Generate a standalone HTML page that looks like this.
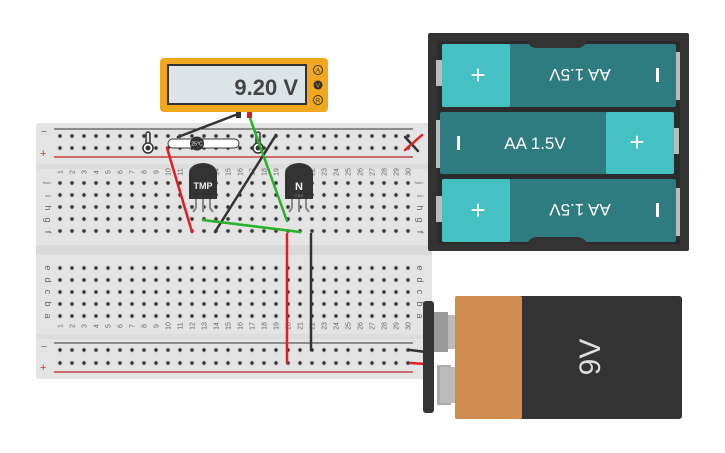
<!DOCTYPE html>
<html><head><meta charset="utf-8"><style>
html,body{margin:0;padding:0;background:#fff;width:725px;height:453px;overflow:hidden}
svg{display:block;font-family:"Liberation Sans",sans-serif}
</style></head><body>
<svg width="725" height="453" viewBox="0 0 725 453" xmlns="http://www.w3.org/2000/svg">
<defs>
<pattern id="h" x="54" y="0" width="12" height="12" patternUnits="userSpaceOnUse">
<circle cx="6" cy="6" r="2.6" fill="#cfcfcf"/><circle cx="6" cy="6" r="1.7" fill="#333"/>
</pattern>
</defs>
<!-- breadboard -->
<rect x="36" y="123" width="396" height="256" rx="3" fill="#e4e4e4"/>
<rect x="36" y="164" width="396" height="5" fill="#dcdcdc"/>
<rect x="36" y="245" width="396" height="10" fill="#dadada"/>
<rect x="36" y="334" width="396" height="5" fill="#dcdcdc"/>
<line x1="54" y1="129" x2="413" y2="129" stroke="#333" stroke-width="1"/>
<line x1="54" y1="157" x2="413" y2="157" stroke="#b22" stroke-width="1.2"/>
<line x1="54" y1="343" x2="413" y2="343" stroke="#333" stroke-width="1"/>
<line x1="54" y1="372" x2="413" y2="372" stroke="#b22" stroke-width="1.2"/>
<g font-size="10" fill="#555"><text x="41" y="135">−</text><text x="41" y="350">−</text></g>
<g font-size="11" fill="#c33"><text x="40" y="157">+</text><text x="40" y="371">+</text></g>
<g>
<rect x="54" y="0" width="360" height="12" fill="url(#h)" transform="translate(0,130)"/>
<rect x="54" y="0" width="360" height="12" fill="url(#h)" transform="translate(0,142)"/>
<rect x="54" y="0" width="360" height="60" fill="url(#h)" transform="translate(0,177)"/>
<rect x="54" y="0" width="360" height="60" fill="url(#h)" transform="translate(0,262)"/>
<rect x="54" y="0" width="360" height="12" fill="url(#h)" transform="translate(0,344)"/>
<rect x="54" y="0" width="360" height="12" fill="url(#h)" transform="translate(0,357)"/>
</g>
<!-- row letters -->
<g font-size="9" fill="#666" text-anchor="middle">
<text transform="translate(48,183) rotate(90)" dy="3">j</text><text transform="translate(48,196) rotate(90)" dy="3">i</text><text transform="translate(48,208) rotate(90)" dy="3">h</text><text transform="translate(48,220) rotate(90)" dy="3">g</text><text transform="translate(48,232) rotate(90)" dy="3">f</text>
<text transform="translate(48,268) rotate(90)" dy="3">e</text><text transform="translate(48,280) rotate(90)" dy="3">d</text><text transform="translate(48,292) rotate(90)" dy="3">c</text><text transform="translate(48,304) rotate(90)" dy="3">b</text><text transform="translate(48,316) rotate(90)" dy="3">a</text>
<text transform="translate(420,183) rotate(90)" dy="3">j</text><text transform="translate(420,196) rotate(90)" dy="3">i</text><text transform="translate(420,208) rotate(90)" dy="3">h</text><text transform="translate(420,220) rotate(90)" dy="3">g</text><text transform="translate(420,232) rotate(90)" dy="3">f</text>
<text transform="translate(420,268) rotate(90)" dy="3">e</text><text transform="translate(420,280) rotate(90)" dy="3">d</text><text transform="translate(420,292) rotate(90)" dy="3">c</text><text transform="translate(420,304) rotate(90)" dy="3">b</text><text transform="translate(420,316) rotate(90)" dy="3">a</text>
</g>
<g font-size="7" fill="#666" text-anchor="middle">
<g>
<text transform="translate(60,172) rotate(-90)" dy="2.5">1</text><text transform="translate(72,172) rotate(-90)" dy="2.5">2</text><text transform="translate(84,172) rotate(-90)" dy="2.5">3</text><text transform="translate(96,172) rotate(-90)" dy="2.5">4</text><text transform="translate(108,172) rotate(-90)" dy="2.5">5</text><text transform="translate(120,172) rotate(-90)" dy="2.5">6</text><text transform="translate(132,172) rotate(-90)" dy="2.5">7</text><text transform="translate(144,172) rotate(-90)" dy="2.5">8</text><text transform="translate(156,172) rotate(-90)" dy="2.5">9</text><text transform="translate(168,172) rotate(-90)" dy="2.5">10</text><text transform="translate(180,172) rotate(-90)" dy="2.5">11</text><text transform="translate(192,172) rotate(-90)" dy="2.5">12</text><text transform="translate(204,172) rotate(-90)" dy="2.5">13</text><text transform="translate(216,172) rotate(-90)" dy="2.5">14</text><text transform="translate(228,172) rotate(-90)" dy="2.5">15</text><text transform="translate(240,172) rotate(-90)" dy="2.5">16</text><text transform="translate(252,172) rotate(-90)" dy="2.5">17</text><text transform="translate(264,172) rotate(-90)" dy="2.5">18</text><text transform="translate(276,172) rotate(-90)" dy="2.5">19</text><text transform="translate(288,172) rotate(-90)" dy="2.5">20</text><text transform="translate(300,172) rotate(-90)" dy="2.5">21</text><text transform="translate(312,172) rotate(-90)" dy="2.5">22</text><text transform="translate(324,172) rotate(-90)" dy="2.5">23</text><text transform="translate(336,172) rotate(-90)" dy="2.5">24</text><text transform="translate(348,172) rotate(-90)" dy="2.5">25</text><text transform="translate(360,172) rotate(-90)" dy="2.5">26</text><text transform="translate(372,172) rotate(-90)" dy="2.5">27</text><text transform="translate(384,172) rotate(-90)" dy="2.5">28</text><text transform="translate(396,172) rotate(-90)" dy="2.5">29</text><text transform="translate(408,172) rotate(-90)" dy="2.5">30</text>
</g>
<g>
<text transform="translate(60,326) rotate(-90)" dy="2.5">1</text><text transform="translate(72,326) rotate(-90)" dy="2.5">2</text><text transform="translate(84,326) rotate(-90)" dy="2.5">3</text><text transform="translate(96,326) rotate(-90)" dy="2.5">4</text><text transform="translate(108,326) rotate(-90)" dy="2.5">5</text><text transform="translate(120,326) rotate(-90)" dy="2.5">6</text><text transform="translate(132,326) rotate(-90)" dy="2.5">7</text><text transform="translate(144,326) rotate(-90)" dy="2.5">8</text><text transform="translate(156,326) rotate(-90)" dy="2.5">9</text><text transform="translate(168,326) rotate(-90)" dy="2.5">10</text><text transform="translate(180,326) rotate(-90)" dy="2.5">11</text><text transform="translate(192,326) rotate(-90)" dy="2.5">12</text><text transform="translate(204,326) rotate(-90)" dy="2.5">13</text><text transform="translate(216,326) rotate(-90)" dy="2.5">14</text><text transform="translate(228,326) rotate(-90)" dy="2.5">15</text><text transform="translate(240,326) rotate(-90)" dy="2.5">16</text><text transform="translate(252,326) rotate(-90)" dy="2.5">17</text><text transform="translate(264,326) rotate(-90)" dy="2.5">18</text><text transform="translate(276,326) rotate(-90)" dy="2.5">19</text><text transform="translate(288,326) rotate(-90)" dy="2.5">20</text><text transform="translate(300,326) rotate(-90)" dy="2.5">21</text><text transform="translate(312,326) rotate(-90)" dy="2.5">22</text><text transform="translate(324,326) rotate(-90)" dy="2.5">23</text><text transform="translate(336,326) rotate(-90)" dy="2.5">24</text><text transform="translate(348,326) rotate(-90)" dy="2.5">25</text><text transform="translate(360,326) rotate(-90)" dy="2.5">26</text><text transform="translate(372,326) rotate(-90)" dy="2.5">27</text><text transform="translate(384,326) rotate(-90)" dy="2.5">28</text><text transform="translate(396,326) rotate(-90)" dy="2.5">29</text><text transform="translate(408,326) rotate(-90)" dy="2.5">30</text>
</g>
</g>
<!-- thermometer icons -->
<g fill="none" stroke="#333" stroke-width="1.5">
<path d="M146,144 V134 a2,2 0 0 1 4,0 V144"/><circle cx="148" cy="148" r="5" fill="#fff"/>
<path d="M256,144 V134 a2,2 0 0 1 4,0 V144"/><circle cx="258" cy="148" r="5" fill="#fff"/>
</g>
<circle cx="148" cy="148" r="2.5" fill="#333"/><circle cx="258" cy="148" r="2.5" fill="#333"/>
<!-- temp slider -->
<rect x="168" y="139" width="71" height="9" rx="4.5" fill="#fff" stroke="#333" stroke-width="1"/>
<circle cx="197" cy="143.5" r="7" fill="#333"/>
<text x="197" y="145.5" font-size="5" fill="#fff" text-anchor="middle">25°C</text>
<!-- transistors -->
<g stroke="#888" stroke-width="2" fill="none">
<path d="M196,196 V208 l-3,4"/><path d="M203,196 V212"/><path d="M210,196 V208 l3,4"/>
<path d="M292,196 V208 l-3,4"/><path d="M299,196 V212"/><path d="M306,196 V208 l3,4"/>
</g>
<path d="M189,199 V173 a14,10 0 0 1 28,0 V199 Z" fill="#333"/>
<path d="M285,199 V173 a14,10 0 0 1 28,0 V199 Z" fill="#333"/>
<text x="203" y="189" font-size="9" font-weight="bold" fill="#eee" text-anchor="middle">TMP</text>
<text x="299" y="190" font-size="11" font-weight="bold" fill="#eee" text-anchor="middle">N</text>
<text x="299" y="197" font-size="3.5" fill="#999" text-anchor="middle">C B E</text>
<!-- wires -->
<g stroke-linecap="round" stroke-width="2.5" fill="none">
<line x1="167" y1="148" x2="192" y2="232" stroke="#e02020"/>
<line x1="238" y1="114" x2="178" y2="137" stroke="#333"/>
<line x1="276" y1="135" x2="215" y2="232" stroke="#333"/>
<line x1="250" y1="118" x2="287" y2="221" stroke="#2ab02a"/>
<line x1="203" y1="220" x2="300" y2="232" stroke="#2ab02a"/>
<line x1="287" y1="234" x2="287" y2="363" stroke="#e02020"/>
<line x1="311" y1="234" x2="311" y2="350" stroke="#333"/>
<line x1="405" y1="137" x2="418" y2="151" stroke="#333"/>
<line x1="405" y1="150" x2="422" y2="135" stroke="#e02020"/>
<line x1="410" y1="350" x2="426" y2="352" stroke="#333"/>
<line x1="410" y1="363" x2="426" y2="364" stroke="#e02020"/>
</g>
<!-- meter -->
<rect x="160" y="58" width="168" height="54" rx="4" fill="#f1a81e"/>
<rect x="167" y="64" width="140" height="41" fill="#333"/>
<rect x="169" y="66" width="136" height="37" fill="#dde4e7"/>
<text x="298" y="95" font-size="22" font-weight="bold" fill="#444" text-anchor="end">9.20 V</text>
<circle cx="318" cy="70" r="4.5" fill="none" stroke="#333" stroke-width="1"/><text x="318" y="72.5" font-size="6" text-anchor="middle" fill="#333">A</text>
<circle cx="318" cy="85" r="4.5" fill="#333"/><text x="318" y="87.5" font-size="6" text-anchor="middle" fill="#f1a81e">V</text>
<circle cx="318" cy="100" r="4.5" fill="none" stroke="#333" stroke-width="1"/><text x="318" y="102.5" font-size="6" text-anchor="middle" fill="#333">R</text>
<rect x="236" y="112" width="5" height="6" fill="#333"/><rect x="247" y="112" width="5" height="6" fill="#c22"/>
<!-- battery pack -->
<rect x="428" y="33" width="261" height="218" rx="2" fill="#333"/>
<rect x="437" y="41" width="243" height="203" fill="#2b2b2b"/>
<rect x="436" y="60" width="6" height="26" fill="#bbb"/><rect x="676" y="52" width="4" height="48" fill="#bbb"/>
<rect x="442" y="44" width="234" height="63" rx="2" fill="#2e7b80"/><rect x="442" y="44" width="68" height="63" rx="2" fill="#45c1c4"/>
<text x="478" y="84" font-size="26" fill="#fff" text-anchor="middle">+</text>
<text x="580" y="75" font-size="17" fill="#fff" text-anchor="middle" transform="rotate(180 580 75)" dy="6">AA 1.5V</text>
<rect x="656" y="68" width="3" height="14" fill="#fff"/>
<rect x="674" y="128" width="5" height="26" fill="#bbb"/><rect x="436" y="120" width="4" height="48" fill="#bbb"/>
<rect x="440" y="112" width="234" height="62" rx="2" fill="#2e7b80"/><rect x="606" y="112" width="68" height="62" rx="2" fill="#45c1c4"/>
<text x="637" y="151" font-size="26" fill="#fff" text-anchor="middle">+</text>
<text x="535" y="149" font-size="17" fill="#fff" text-anchor="middle">AA 1.5V</text>
<rect x="457" y="136" width="3" height="14" fill="#fff"/>
<rect x="436" y="196" width="6" height="26" fill="#bbb"/><rect x="676" y="188" width="4" height="48" fill="#bbb"/>
<rect x="442" y="179" width="234" height="63" rx="2" fill="#2e7b80"/><rect x="442" y="179" width="68" height="63" rx="2" fill="#45c1c4"/>
<text x="478" y="219" font-size="26" fill="#fff" text-anchor="middle">+</text>
<text x="580" y="210" font-size="17" fill="#fff" text-anchor="middle" transform="rotate(180 580 210)" dy="6">AA 1.5V</text>
<rect x="656" y="203" width="3" height="14" fill="#fff"/>
<path d="M527,41 q3,7 10,7 h40 q7,0 10,-7 Z" fill="#333"/>
<path d="M527,244 q3,-7 10,-7 h40 q7,0 10,7 Z" fill="#333"/>
<!-- 9V -->
<rect x="434" y="312" width="14" height="40" fill="#999"/><rect x="448" y="315" width="8" height="34" fill="#bbb"/>
<rect x="437" y="365" width="14" height="40" fill="#aaa"/><rect x="440" y="367" width="16" height="36" fill="#bbb"/>
<rect x="423" y="301" width="11" height="112" rx="3" fill="#333"/>
<rect x="455" y="296" width="227" height="123" rx="3" fill="#333"/>
<rect x="455" y="296" width="67" height="123" rx="2" fill="#d08b50"/>
<text x="590" y="357" font-size="30" fill="#ddd" text-anchor="middle" transform="rotate(-90 590 357)" dy="10">9V</text>
</svg>
</body></html>
